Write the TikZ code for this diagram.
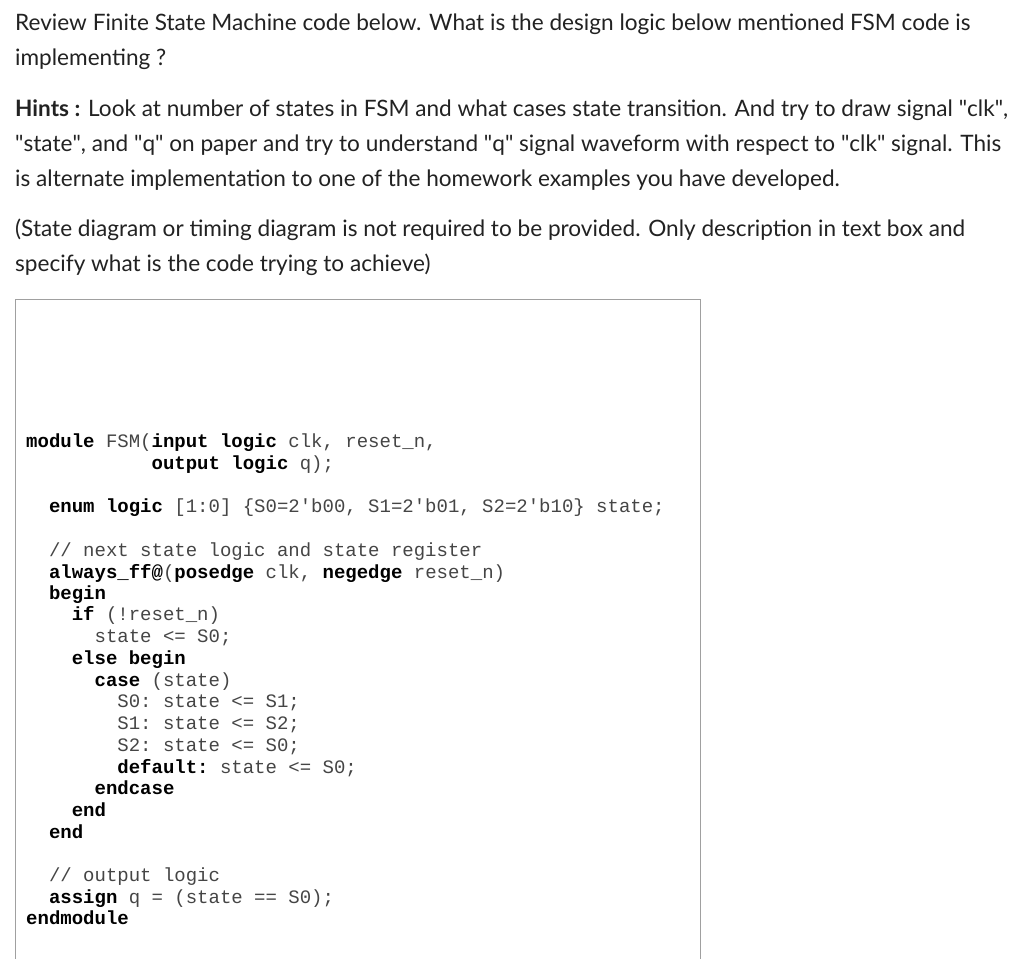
\documentclass[tikz,border=0pt]{standalone}
\usepackage{fontspec}
\setmainfont{Lato}
\setmonofont{Liberation Mono}
\definecolor{txt}{HTML}{222222}
\definecolor{cd}{HTML}{454545}
\definecolor{bx}{HTML}{A0A0A0}
\newcommand{\kw}[1]{\textbf{\color{black}#1}}
\newcommand{\q}{\textquotedbl}
\begin{document}
\begin{tikzpicture}[x=1pt,y=1pt,
  para/.style={anchor=base west,inner sep=0pt,font=\fontsize{22.6}{26}\selectfont,text=txt},
  code/.style={anchor=base west,inner sep=0pt,font=\ttfamily\fontsize{19}{22}\selectfont,text=cd}]
\useasboundingbox[fill=white] (0,0) rectangle (1024,-958);
\node[para] (p1) at (15,-31) {Review Finite State Machine code below. What is the design logic below mentioned FSM code is};
\node[para] (p2) at (15,-66) {implementing ?};
\node[para] (h1) at (15,-116) {\textbf{Hints :} Look at number of states in FSM and what cases state transition. And try to draw signal \q clk\q,};
\node[para] (h2) at (15,-151) {\q state\q, and \q q\q{} on paper and try to understand \q q\q{} signal waveform with respect to \q clk\q{} signal. This};
\node[para] (h3) at (15,-186) {is alternate implementation to one of the homework examples you have developed.};
\node[para] (s1) at (15,-236) {(State diagram or timing diagram is not required to be provided. Only description in text box and};
\node[para] (s2) at (15,-271) {specify what is the code trying to achieve)};
\draw[bx,line width=1pt] (15,-960) -- (15,-299.5) -- (700,-299.5) -- (700,-960);
\node[code] (c1) at (26,-447) {\kw{module} FSM(\kw{input logic} clk, reset\_n,};
\node[code] (c2) at (26,-469) {\phantom{module FSM(}\kw{output logic} q);};
\node[code] (c3) at (26,-512) {\phantom{xx}\kw{enum logic} [1:0] \{S0=2'b00, S1=2'b01, S2=2'b10\} state;};
\node[code] (c4) at (26,-556) {\phantom{xx}// next state logic and state register};
\node[code] (c5) at (26,-578) {\phantom{xx}\kw{always\_ff@}(\kw{posedge} clk, \kw{negedge} reset\_n)};
\node[code] (c6) at (26,-599) {\phantom{xx}\kw{begin}};
\node[code] (c7) at (26,-620) {\phantom{xxxx}\kw{if} (!reset\_n)};
\node[code] (c8) at (26,-642) {\phantom{xxxxxx}state <= S0;};
\node[code] (c9) at (26,-664) {\phantom{xxxx}\kw{else begin}};
\node[code] (c10) at (26,-686) {\phantom{xxxxxx}\kw{case} (state)};
\node[code] (c11) at (26,-707) {\phantom{xxxxxxxx}S0: state <= S1;};
\node[code] (c12) at (26,-729) {\phantom{xxxxxxxx}S1: state <= S2;};
\node[code] (c13) at (26,-751) {\phantom{xxxxxxxx}S2: state <= S0;};
\node[code] (c14) at (26,-773) {\phantom{xxxxxxxx}\kw{default:} state <= S0;};
\node[code] (c15) at (26,-794) {\phantom{xxxxxx}\kw{endcase}};
\node[code] (c16) at (26,-816) {\phantom{xxxx}\kw{end}};
\node[code] (c17) at (26,-838) {\phantom{xx}\kw{end}};
\node[code] (c18) at (26,-881) {\phantom{xx}// output logic};
\node[code] (c19) at (26,-903) {\phantom{xx}\kw{assign} q = (state == S0);};
\node[code] (c20) at (26,-924) {\kw{endmodule}};
\end{tikzpicture}
\end{document}
